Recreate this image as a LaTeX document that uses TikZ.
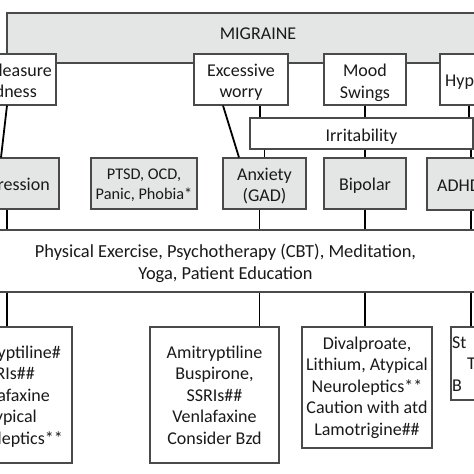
\documentclass[tikz,border=0pt]{standalone}
\usepackage{fontspec}
\setmainfont{Carlito}
\definecolor{boxgray}{HTML}{E4E6E6}
\definecolor{boxline}{HTML}{4A4A4A}
\definecolor{txtcol}{HTML}{1A1A1A}
\newcommand\fsz{\fontsize{18}{21.5}\selectfont}
\newcommand\lowr[1]{\rule{0pt}{#1pt}}
\begin{document}
\begin{tikzpicture}[x=1pt,y=-1pt,
  box/.style={draw=boxline, line width=1.1pt, fill=white, inner sep=0pt, align=center, font=\fsz, text=txtcol},
  gbox/.style={box, fill=boxgray},
  conn/.style={draw=black, line width=1.8pt},
  txt/.style={inner sep=0pt, font=\fsz, text=txtcol}]
\useasboundingbox (0,0) rectangle (474,474);
\clip (0,0) rectangle (474,474);
\fill[white] (0,0) rectangle (474,474);

% top box
\node[gbox, minimum width=502, minimum height=50] (mig) at (258,38) {};
\node[txt] (migt) at (258,34) {MIGRAINE};

% row 1
\node[box, minimum width=98, minimum height=51] (ple) at (7,79.5) {};
\node[txt, anchor=base east] (plet1) at (52,76) {leasure};
\node[txt, anchor=base east] (plet2) at (37,97) {dness};
\node[box, minimum width=94, minimum height=51] (exc) at (241,79.5) {\lowr{17.5}Excessive\\worry};
\node[box, minimum width=82, minimum height=51] (mood) at (365,79.5) {\lowr{19}Mood\\Swings};
\node[box, minimum width=58, minimum height=51] (hyp) at (469,79.5) {};
\node[txt, anchor=base west] (hypt) at (445,86) {Hyp};

% irritability
\node[box, minimum width=223, minimum height=31] (irr) at (361.5,133.5) {\lowr{18}Irritability};

% row 3
\node[gbox, minimum width=104, minimum height=51] (dep) at (7,183.5) {};
\node[txt, anchor=base east] (dept) at (50,190) {ression};
\node[gbox, minimum width=106, minimum height=51, font=\fontsize{16.3}{20}\selectfont] (ptsd) at (144,183.5) {\lowr{15}PTSD, OCD,\\Panic, Phobia*};
\node[gbox, minimum width=83, minimum height=51] (anx) at (264.5,183.5) {\lowr{17}Anxiety\\(GAD)};
\node[gbox, minimum width=82, minimum height=51] (bip) at (365,183.5) {\lowr{17.5}Bipolar};
\node[gbox, minimum width=88, minimum height=52] (adhd) at (471,184) {};
\node[txt, anchor=base west] (adhdt) at (437,191) {ADHD};

% treatment
\node[box, minimum width=510, minimum height=62, font=\fontsize{18.4}{21.5}\selectfont] (trt) at (225.5,261) {\lowr{18}Physical Exercise, Psychotherapy (CBT), Meditation,\\Yoga, Patient Education};

% row 5
\node[box, minimum width=130, minimum height=136] (dmed) at (7,395) {};
\node[txt, anchor=base east] (dm1) at (61,358) {ryptiline\#};
\node[txt, anchor=base east] (dm2) at (35,379.5) {SRIs\#\#};
\node[txt, anchor=base east] (dm3) at (50,401) {lafaxine};
\node[txt, anchor=base east] (dm4) at (37,422.5) {ypical};
\node[txt, anchor=base east] (dm5) at (63,444) {leptics**};
\node[box, minimum width=129, minimum height=136] (amed) at (214.5,395) {Amitryptiline\\Buspirone,\\SSRIs\#\#\\Venlafaxine\\Consider Bzd};
\node[box, minimum width=130, minimum height=121] (bmed) at (367,387.5) {Divalproate,\\Lithium, Atypical\\Neuroleptics**\\Caution with atd\\Lamotrigine\#\#};
\node[box, minimum width=60, minimum height=73] (hmed) at (481,363.5) {};
\node[txt, anchor=base west] (hm1) at (452,348) {St};
\node[txt, anchor=base west] (hm2) at (467,369.5) {T};
\node[txt, anchor=base west] (hm3) at (452,391) {B};

% connectors
\draw[conn] (ple.south) -- ([xshift=-6]dep.north);
\draw[conn] ([xshift=-18]exc.south) -- ([xshift=-25.5]anx.north);
\coordinate (e1) at ([xshift=19]exc.south);
\draw[conn] (e1) -- (e1 |- irr.north);
\draw[conn] (mood.south) -- (mood.south |- irr.north);
\draw[conn] (hyp.south) -- (hyp.south |- irr.north);
\draw[conn] (anx.north |- irr.south) -- (anx.north);
\draw[conn] (bip.north |- irr.south) -- (bip.north);
\draw[conn] (adhd.north |- irr.south) -- (adhd.north);
\draw[conn] (dep.south) -- (dep.south |- trt.north);
\coordinate (a1) at ([xshift=-5]anx.south);
\draw[conn] (a1) -- (a1 |- trt.north);
\draw[conn] (bip.south) -- (bip.south |- trt.north);
\draw[conn] (adhd.south) -- (adhd.south |- trt.north);
\draw[conn] (dmed.north |- trt.south) -- (dmed.north);
\draw[conn] (a1 |- trt.south) -- (a1 |- amed.north);
\draw[conn] (bip.south |- trt.south) -- (bip.south |- bmed.north);
\draw[conn] (adhd.south |- trt.south) -- (adhd.south |- hmed.north);
\end{tikzpicture}
\end{document}
